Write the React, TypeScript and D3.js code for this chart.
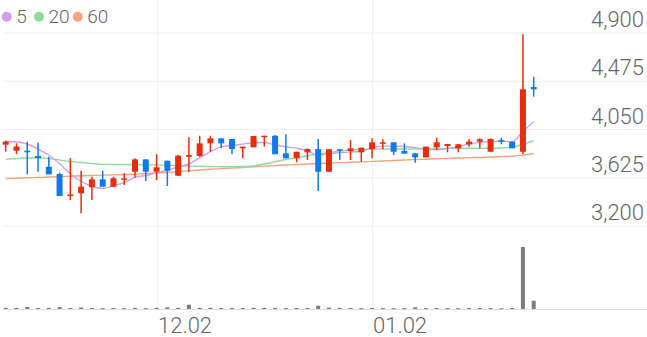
import React from 'react';
import * as d3 from 'd3';

const opens = [3916,3863,3863,3817,3722,3658,3464,3488,3541,3611,3546,3611,3678,3787,3678,3775,3643,3810,3817,3928,3972,3966,3884,3893,3984,3995,3840,3796,3849,3878,3678,3876,3861,3849,3878,3925,3937,3861,3840,3805,3893,3905,3884,3920,3943,3854,3957,3943,3854,4424];
const highs = [3951,3928,3943,3934,3810,3670,3799,3687,3634,3687,3634,3664,3796,3787,3832,3775,3825,3981,3995,3995,3972,3966,3899,3993,3995,4002,4008,3854,3884,3966,3876,3876,3957,3890,3972,3964,3937,3928,3840,3899,3978,3922,3920,3966,3972,3972,3978,3943,4890,4515];
const lows = [3855,3834,3655,3678,3655,3464,3429,3312,3429,3546,3541,3561,3625,3596,3605,3552,3643,3678,3810,3854,3884,3832,3796,3893,3899,3832,3796,3761,3781,3508,3678,3781,3781,3766,3796,3876,3825,3837,3758,3805,3870,3849,3849,3899,3884,3854,3920,3884,3832,4339];
const closes = [3943,3899,3849,3799,3655,3464,3477,3546,3611,3546,3620,3620,3787,3678,3717,3687,3819,3825,3928,3972,3928,3878,3899,3993,3995,3832,3796,3854,3878,3678,3876,3863,3884,3890,3937,3937,3854,3837,3805,3899,3937,3922,3920,3943,3964,3966,3948,3884,4404,4404];
const volumes = [60000,55000,100000,50000,55000,95000,50000,75000,50000,45000,50000,45000,55000,40000,60000,85000,60000,215000,60000,55000,50000,55000,50000,55000,60000,55000,45000,50000,55000,165000,70000,55000,50000,45000,50000,45000,40000,45000,85000,45000,50000,45000,40000,45000,50000,45000,40000,50000,3100000,415000];

const ma5 = [3944,3940,3922,3878,3825,3748,3660,3592,3551,3530,3555,3582,3628,3645,3670,3690,3720,3746,3800,3856,3897,3910,3921,3933,3935,3916,3898,3885,3862,3824,3835,3846,3853,3857,3889,3904,3904,3900,3890,3875,3872,3882,3898,3922,3937,3943,3948,3941,4033,4121];
const ma20 = [3787,3795,3799,3799,3795,3781,3768,3759,3751,3743,3742,3742,3742,3740,3737,3735,3731,3729,3726,3724,3722,3722,3724,3729,3746,3766,3786,3803,3819,3833,3847,3859,3870,3874,3876,3878,3878,3878,3878,3880,3882,3884,3885,3885,3885,3885,3887,3893,3920,3951];
const ma60 = [3618,3621,3625,3627,3631,3635,3639,3642,3645,3648,3650,3653,3656,3662,3667,3673,3679,3686,3693,3700,3705,3710,3715,3722,3727,3732,3737,3742,3746,3751,3754,3758,3761,3765,3769,3773,3777,3781,3785,3788,3792,3795,3799,3802,3804,3808,3811,3815,3824,3839];

const yTicks = [4900, 4475, 4050, 3625, 3200];
const xTickIndex = [14, 34];
const xTickLabels = ['12.02', '01.02'];
const legendLabels = ['5', '20', '60'];
const legendColors = ['#d69bf0', '#8fdc9e', '#f8a27b'];

const W = 647;
const H = 337;
const UP = '#e62d0c';
const DOWN = '#1079ee';
const FONT = 'Roboto, "Noto Sans", sans-serif';

export default function App() {
  const n = closes.length;
  const x = d3.scaleLinear().domain([0, n - 1]).range([5.7, 533.7]);
  const y = d3.scaleLinear().domain([3200, 4900]).range([226, 33]);
  const yv = d3.scaleLinear().domain([0, 3100000]).range([309, 247]);
  const line = (arr: number[]) =>
    d3.line<number>().x((_, i) => x(i)).y((d) => y(d)).curve(d3.curveMonotoneX)(arr) || '';
  const bodyW = 6;
  const volW = 4;

  return (
    <svg width={W} height={H} style={{ position: 'absolute', left: 0, top: 0, background: '#fff' }}>
      {/* horizontal grid */}
      {yTicks.map((t) => (
        <line key={'g' + t} x1={3} x2={W} y1={y(t)} y2={y(t)} stroke="#f0f0f0" strokeWidth={1} />
      ))}
      {/* vertical grid */}
      {xTickIndex.map((i) => (
        <line key={'v' + i} x1={Math.round(x(i)) + 0.5} x2={Math.round(x(i)) + 0.5} y1={0} y2={309} stroke="#f0f0f0" strokeWidth={1} />
      ))}
      {/* volume baseline */}
      <line x1={3} x2={W} y1={309.5} y2={309.5} stroke="#dedede" strokeWidth={1} />
      {/* volume bars */}
      {volumes.map((v, i) => (
        <rect key={'vol' + i} x={x(i) - volW / 2} y={yv(v)} width={volW} height={Math.max(1, 309 - yv(v))} fill="#7d7d7d" />
      ))}
      {/* moving averages */}
      <path d={line(ma60)} fill="none" stroke={legendColors[2]} strokeWidth={1.4} />
      <path d={line(ma20)} fill="none" stroke={legendColors[1]} strokeWidth={1.4} />
      <path d={line(ma5)} fill="none" stroke={legendColors[0]} strokeWidth={1.4} />
      {/* candles */}
      {closes.map((c, i) => {
        const o = opens[i];
        const color = c >= o ? UP : DOWN;
        const top = y(Math.max(o, c));
        const bot = y(Math.min(o, c));
        return (
          <g key={'c' + i}>
            <line x1={x(i)} x2={x(i)} y1={y(highs[i])} y2={y(lows[i])} stroke={color} strokeWidth={1.5} />
            <rect x={x(i) - bodyW / 2} y={top} width={bodyW} height={Math.max(1.5, bot - top)} fill={color} />
          </g>
        );
      })}
      {/* y axis labels */}
      {yTicks.map((t) => (
        <text key={'yl' + t} x={644} y={y(t) - 6} textAnchor="end" fontFamily={FONT} fontWeight={300} fontSize={22} fill="#666">
          {d3.format(',')(t)}
        </text>
      ))}
      {/* x axis labels */}
      {xTickIndex.map((i, k) => (
        <text key={'xl' + i} x={Math.round(x(i)) + 1} y={333} textAnchor="start" fontFamily={FONT} fontWeight={300} fontSize={22} fill="#666">
          {xTickLabels[k]}
        </text>
      ))}
      {/* legend */}
      {legendLabels.map((l, k) => {
        const lx = [6.7, 39, 77.7][k];
        return (
          <g key={'lg' + l}>
            <circle cx={lx} cy={16.7} r={5} fill={legendColors[k]} />
            <text x={lx + 9.5} y={23.3} fontFamily={FONT} fontWeight={300} fontSize={19} fill="#666">{l}</text>
          </g>
        );
      })}
    </svg>
  );
}
